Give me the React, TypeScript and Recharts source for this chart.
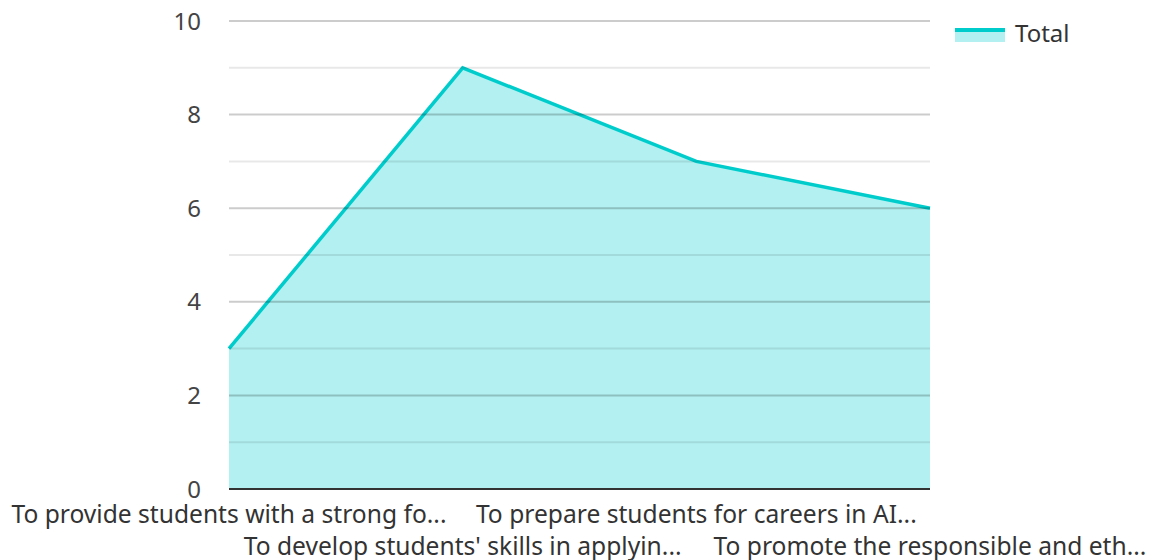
import {
  AreaChart, Area, XAxis, YAxis, ReferenceLine,
} from 'recharts';

const categories = [
  'To provide students with a strong fo...',
  "To develop students' skills in applyin...",
  'To prepare students for careers in AI...',
  'To promote the responsible and eth...',
];
const totals = [3, 9, 7, 6];
const yTicks = [0, 2, 4, 6, 8, 10];
const minorTicks = [1, 3, 5, 7, 9];

const data = categories.map((name, i) => ({ name, total: totals[i] }));

const FONT = '"Noto Sans", "Open Sans", sans-serif';
const LINE = '#00cccc';
const FILL = '#00cdd0';

// alternate the long category labels over two rows
function AltTick({ x, y, payload, index }: any) {
  const row = index % 2;
  return (
    <text
      x={x}
      y={y + 26 + row * 32}
      textAnchor="middle"
      fontSize={24.6}
      fontFamily={FONT}
      fill="#333333"
    >
      {payload.value}
    </text>
  );
}

export default function App() {
  return (
    <div style={{ position: 'absolute', left: 0, top: 0, width: 1152, height: 560, background: '#fff' }}>
      <AreaChart
        width={1152}
        height={560}
        data={data}
        margin={{ top: 21, right: 222, left: 169, bottom: 0 }}
      >
        <XAxis
          dataKey="name"
          interval={0}
          tickLine={false}
          axisLine={{ stroke: '#333333', strokeWidth: 2 }}
          height={71}
          tick={<AltTick />}
        />
        <YAxis
          domain={[0, 10]}
          ticks={yTicks}
          width={60}
          axisLine={false}
          tickLine={false}
          tickSize={0}
          tickMargin={28}
          tick={{ fontSize: 24, fill: '#444444', fontFamily: FONT }}
        />
        <Area
          type="linear"
          dataKey="total"
          name="Total"
          stroke={LINE}
          strokeWidth={3.5}
          fill={FILL}
          fillOpacity={0.3}
          dot={false}
          activeDot={false}
          isAnimationActive={false}
        />
        {minorTicks.map(v => (
          <ReferenceLine key={`m${v}`} y={v} stroke="rgba(0,0,0,0.09)" strokeWidth={2} />
        ))}
        {yTicks.filter(v => v > 0).map(v => (
          <ReferenceLine key={`g${v}`} y={v} stroke="rgba(0,0,0,0.2)" strokeWidth={2} />
        ))}
      </AreaChart>
      <div
        style={{
          position: 'absolute', top: 16, left: 955, display: 'flex', alignItems: 'center',
          fontFamily: FONT, fontSize: 24, color: '#333',
        }}
      >
        <svg width={50} height={14} style={{ marginRight: 10, marginTop: 4 }}>
          <rect x={0} y={2} width={50} height={12} fill={FILL} fillOpacity={0.3} />
          <rect x={0} y={0} width={50} height={4} fill={LINE} />
        </svg>
        <span>Total</span>
      </div>
    </div>
  );
}
